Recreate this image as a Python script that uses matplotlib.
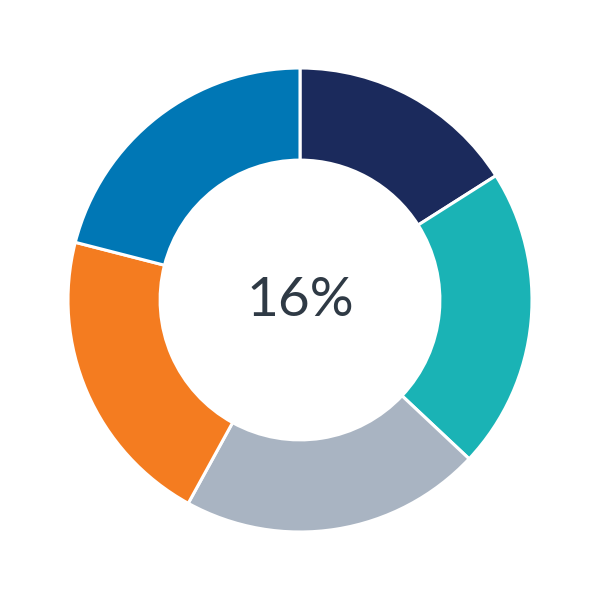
import matplotlib
matplotlib.use("Agg")
import matplotlib.pyplot as plt

# 도넛 차트 데이터
labels = ["A", "B", "C", "D", "E"]
values = [16, 21, 21, 21, 21]
colors = ["#1b2a5c", "#1ab3b5", "#a9b4c2", "#f47c20", "#0077b5"]
center_text = "16%"

fig = plt.figure(figsize=(6, 6), dpi=100)
ax = fig.add_axes([0, 0, 1, 1])
ax.pie(values, colors=colors, startangle=90, counterclock=False,
       radius=1.0,
       wedgeprops=dict(width=0.397, edgecolor="white", linewidth=2.2))
ax.text(0, 0, center_text, ha="center", va="center", fontsize=39.5,
        color="#2f3a45", family=["Lato", "DejaVu Sans"])
lim = 300 / 232
ax.set_xlim(-lim, lim)
ax.set_ylim(-lim, lim)
ax.set_aspect("equal")
ax.axis("off")
fig.savefig("out.png", dpi=100, facecolor="white")
